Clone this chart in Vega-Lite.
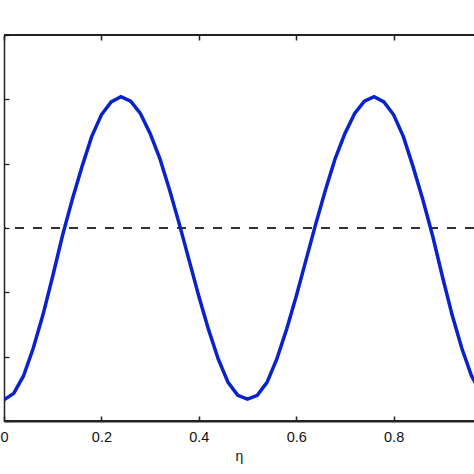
{
  "$schema": "https://vega.github.io/schema/vega-lite/v6.json",
  "autosize": "none",
  "padding": {"left": 4, "top": 35, "right": 0, "bottom": 53},
  "width": 470,
  "height": 386,
  "background": "white",
  "data": {
    "values": [
      {"eta": 0.00, "v": -2.67}, {"eta": 0.02, "v": -2.57}, {"eta": 0.04, "v": -2.30},
      {"eta": 0.06, "v": -1.87}, {"eta": 0.08, "v": -1.35}, {"eta": 0.10, "v": -0.75},
      {"eta": 0.12, "v": -0.12}, {"eta": 0.14, "v": 0.44}, {"eta": 0.16, "v": 0.95},
      {"eta": 0.18, "v": 1.42}, {"eta": 0.20, "v": 1.76}, {"eta": 0.22, "v": 1.96},
      {"eta": 0.24, "v": 2.04}, {"eta": 0.26, "v": 1.97}, {"eta": 0.28, "v": 1.78},
      {"eta": 0.30, "v": 1.47}, {"eta": 0.32, "v": 1.08}, {"eta": 0.34, "v": 0.59},
      {"eta": 0.36, "v": 0.06}, {"eta": 0.38, "v": -0.50}, {"eta": 0.40, "v": -1.06},
      {"eta": 0.42, "v": -1.58}, {"eta": 0.44, "v": -2.04}, {"eta": 0.46, "v": -2.40},
      {"eta": 0.48, "v": -2.60}, {"eta": 0.50, "v": -2.66}, {"eta": 0.52, "v": -2.60},
      {"eta": 0.54, "v": -2.40}, {"eta": 0.56, "v": -2.04}, {"eta": 0.58, "v": -1.58},
      {"eta": 0.60, "v": -1.06}, {"eta": 0.62, "v": -0.50}, {"eta": 0.64, "v": 0.06},
      {"eta": 0.66, "v": 0.59}, {"eta": 0.68, "v": 1.08}, {"eta": 0.70, "v": 1.47},
      {"eta": 0.72, "v": 1.78}, {"eta": 0.74, "v": 1.97}, {"eta": 0.76, "v": 2.04},
      {"eta": 0.78, "v": 1.96}, {"eta": 0.80, "v": 1.76}, {"eta": 0.82, "v": 1.42},
      {"eta": 0.84, "v": 0.95}, {"eta": 0.86, "v": 0.44}, {"eta": 0.88, "v": -0.12},
      {"eta": 0.90, "v": -0.75}, {"eta": 0.92, "v": -1.35}, {"eta": 0.94, "v": -1.87},
      {"eta": 0.96, "v": -2.30}, {"eta": 0.98, "v": -2.57}, {"eta": 1.00, "v": -2.67}
    ]
  },
  "layer": [
    {
      "mark": {"type": "rule", "color": "#333333", "strokeWidth": 1.3, "strokeDash": [9, 9]},
      "encoding": {"y": {"datum": 0, "type": "quantitative"}}
    },
    {
      "mark": {"type": "rule", "color": "#222222", "strokeWidth": 1.5},
      "encoding": {"y": {"datum": 3, "type": "quantitative"}}
    },
    {
      "mark": {"type": "rule", "color": "#222222", "strokeWidth": 1.8},
      "encoding": {"y": {"datum": -3, "type": "quantitative"}}
    },
    {
      "mark": {"type": "line", "color": "#0a22cc", "strokeWidth": 3.5, "clip": true},
      "encoding": {
        "x": {
          "field": "eta",
          "type": "quantitative",
          "scale": {"domain": [0, 0.965], "nice": false, "zero": false},
          "axis": {
            "orient": "bottom",
            "values": [0, 0.2, 0.4, 0.6, 0.8],
            "format": "~g",
            "grid": true,
            "gridColor": "#222222",
            "gridWidth": 1.5,
            "gridOpacity": 1,
            "gridDash": [5, 376, 5, 40],
            "domain": true,
            "domainWidth": 1.8,
            "ticks": false,
            "labelFlush": false,
            "labelPadding": 9,
            "title": "η",
            "titlePadding": 6
          }
        },
        "y": {
          "field": "v",
          "type": "quantitative",
          "scale": {"domain": [-3, 3], "nice": false, "zero": false},
          "axis": {
            "orient": "left",
            "values": [-3, -2, -1, 0, 1, 2, 3],
            "labels": false,
            "title": null,
            "grid": false,
            "domain": true,
            "tickSize": -5
          }
        }
      }
    }
  ],
  "config": {
    "view": {"stroke": null},
    "axis": {
      "domainColor": "#222222",
      "domainWidth": 1.5,
      "tickColor": "#222222",
      "tickWidth": 1.3,
      "labelFont": "Liberation Sans",
      "labelFontSize": 14.5,
      "labelColor": "#111111",
      "titleFont": "Liberation Sans",
      "titleFontSize": 14,
      "titleFontWeight": "normal",
      "titleColor": "#111111"
    }
  }
}
